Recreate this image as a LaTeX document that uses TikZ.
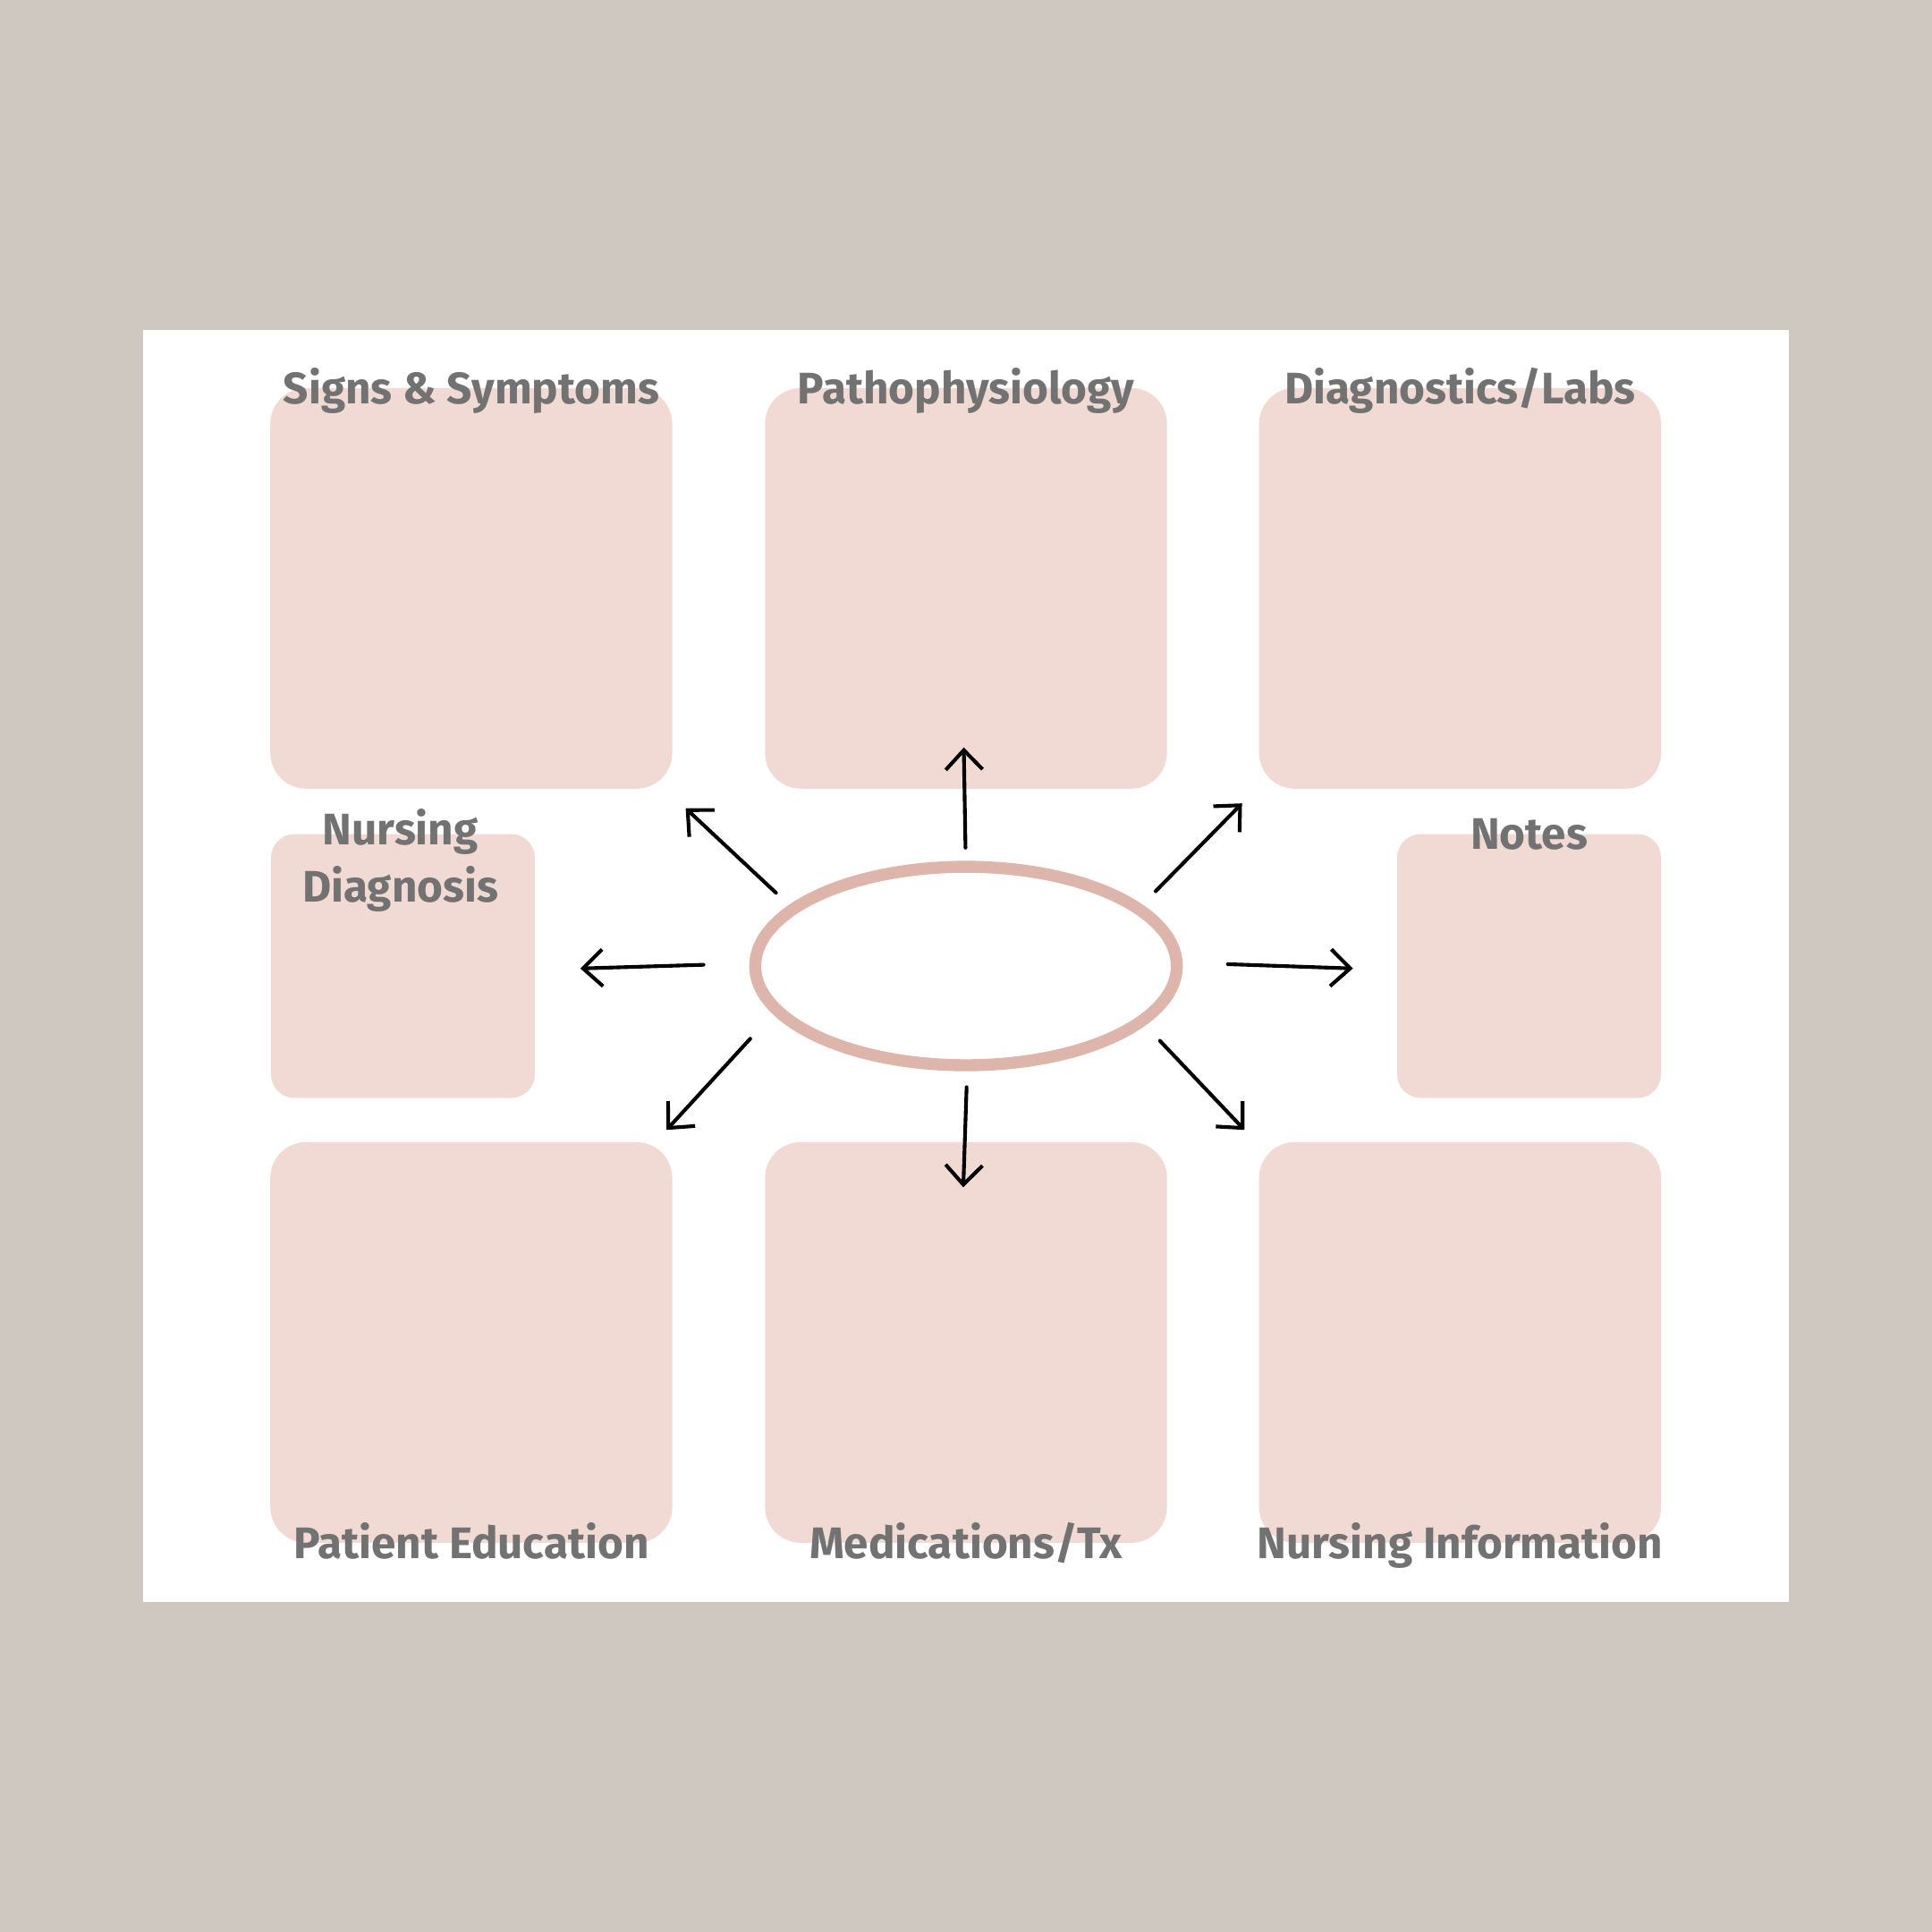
\documentclass[tikz,border=0pt]{standalone}
\usepackage{fontspec}
\setmainfont{Fira Sans}
\usepackage{xcolor}
\usepackage{tikz}
\usetikzlibrary{arrows.meta,shapes.geometric}

\definecolor{backgr}{HTML}{CEC8C1}
\definecolor{panelfill}{HTML}{F0DAD3}
\definecolor{ringcol}{HTML}{DDB5AA}
\definecolor{headcol}{HTML}{727272}

\tikzset{
	panel/.style={fill=panelfill,rounded corners=0.29cm,inner sep=0pt,minimum width=3.26cm,minimum height=3.25cm},
	smallpanel/.style={fill=panelfill,rounded corners=0.19cm,inner sep=0pt,minimum width=2.14cm,minimum height=2.14cm},
	heading/.style={anchor=base,text=headcol,font=\fontsize{10.2pt}{13.2pt}\selectfont\bfseries,inner sep=0pt,align=center},
}

\begin{document}
\begin{tikzpicture}[x=0.01cm,y=-0.01cm]
		\fill[backgr] (0,0) rectangle (1568,1568);
		\fill[white] (116,268) rectangle (1452,1300);
		%
		\node[panel] (SS) at (382.5,477.5) {};
		\node[panel] (PP) at (784,477.5) {};
		\node[panel] (DL) at (1185,477.5) {};
		\node[smallpanel] (ND) at (327,784) {};
		\node[smallpanel] (NO) at (1241,784) {};
		\node[panel] (PE) at (382.5,1089.5) {};
		\node[panel] (MT) at (784,1089.5) {};
		\node[panel] (NI) at (1185,1089.5) {};
		\node[ellipse,draw=ringcol,line width=0.097cm,fill=white,minimum width=3.42cm,minimum height=1.61cm,inner sep=0pt] (C) at (784,784) {};
		%
		\node[heading] at (382.5,328) {Signs \& Symptoms};
		\node[heading] at (784,328) {Pathophysiology};
		\node[heading] at (1185,328) {Diagnostics/Labs};
		\node[heading] at (325,732) {Nursing\\Diagnosis};
		\node[heading] at (1241,689) {Notes};
		\node[heading] at (382.5,1265) {Patient Education};
		\node[heading] at (784,1265) {Medications/Tx};
		\node[heading] at (1185,1265) {Nursing Information};
		%
		\coordinate (ups) at (783.6,688);
		\coordinate (upe) at (782.2,606.6);
		\coordinate (uls) at (629.8,724.6);
		\coordinate (ule) at (556.5,656);
		\coordinate (urs) at (937.9,723.3);
		\coordinate (ure) at (1008,652);
		\coordinate (les) at (571,783);
		\coordinate (lee) at (471,786);
		\coordinate (ris) at (996.5,782.5);
		\coordinate (rie) at (1098,786);
		\coordinate (lls) at (608.9,843);
		\coordinate (lle) at (541,917);
		\coordinate (dos) at (784.5,882.3);
		\coordinate (doe) at (781.8,963.6);
		\coordinate (lrs) at (941.4,844.7);
		\coordinate (lre) at (1010,917);
		%
		\path[->,line width=0.85pt,line cap=round,>={Straight Barb[length=4.5pt,width=8.5pt]}]
		(ups) edge (upe)
		(uls) edge (ule)
		(urs) edge (ure)
		(les) edge (lee)
		(ris) edge (rie)
		(lls) edge (lle)
		(dos) edge (doe)
		(lrs) edge (lre);
	\end{tikzpicture}
\end{document}
